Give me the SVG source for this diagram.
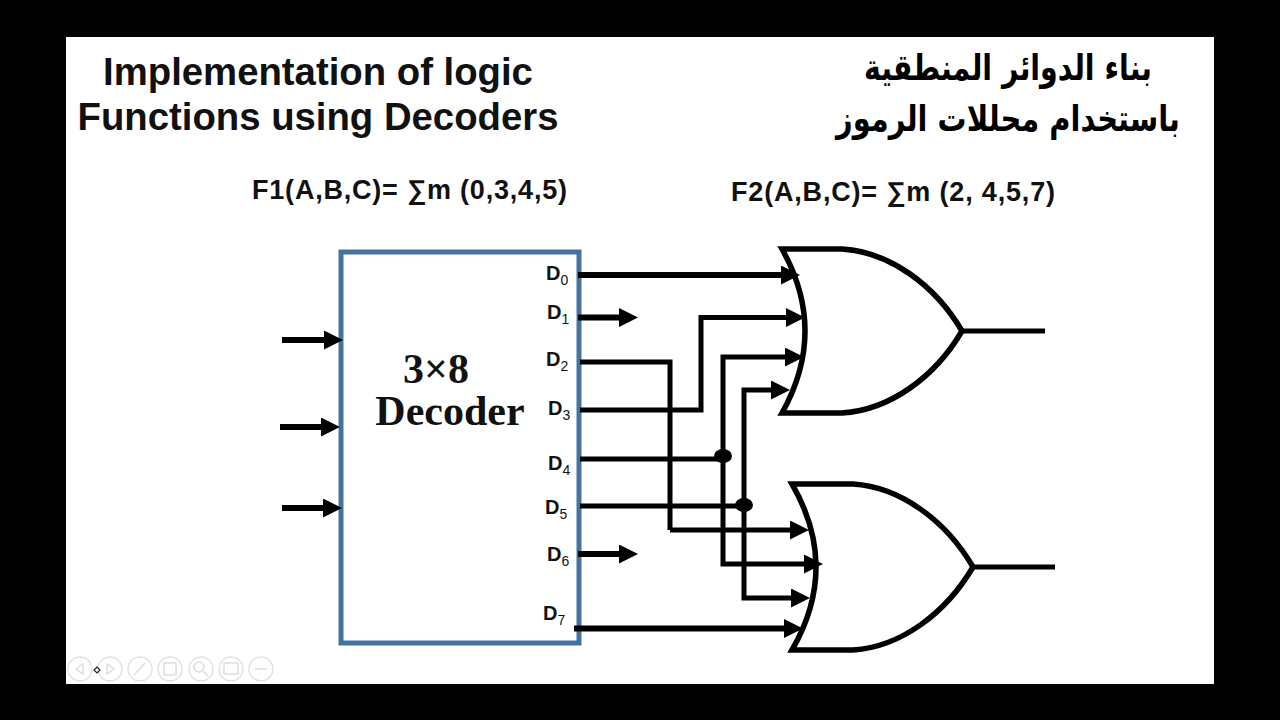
<svg xmlns="http://www.w3.org/2000/svg" width="1280" height="720" viewBox="0 0 1280 720">
<style>
.t{font-family:"Liberation Sans",Arial,sans-serif;font-weight:700;fill:#111}
.h{font-size:38.300px;text-anchor:middle}
.f{font-size:27px}
.d{font-size:20px}
.s{font-size:14px;font-weight:400}
.ar{font-family:"DejaVu Sans","Noto Sans",sans-serif;font-weight:700;font-size:36px;fill:#000;text-anchor:middle}
.dec{font-family:"Liberation Serif","Times New Roman",serif;font-weight:700;font-size:42px;fill:#111;text-anchor:middle}
.w{fill:none;stroke:#000;stroke-width:5}
.a{fill:none;stroke:#000;stroke-width:5;marker-end:url(#ah)}
.k{stroke-width:6}
.g{fill:none;stroke:#000;stroke-width:5.500;stroke-linejoin:miter;stroke-miterlimit:10}
.b{fill:none;stroke:#e2e2e2;stroke-width:1.500}
.bi{fill:none;stroke:#dedede;stroke-width:1.500}
</style>
<defs>
<marker id="ah" markerUnits="userSpaceOnUse" markerWidth="20" markerHeight="20" refX="1" refY="9.500" orient="auto">
<path d="M0 0L19 9.500L0 19Z" fill="#000"/>
</marker>
</defs>
<rect width="1280" height="720" fill="#000"/>
<rect x="66" y="37" width="1148" height="647" fill="#fff"/>
<g id="titles">
<text class="t h" x="318" y="85">Implementation of logic</text>
<text class="t h" x="318" y="130">Functions using Decoders</text>
<text class="ar" x="1008" y="80" direction="rtl" textLength="288" lengthAdjust="spacingAndGlyphs">بناء الدوائر المنطقية</text>
<text class="ar" x="1008" y="131" direction="rtl" textLength="344" lengthAdjust="spacingAndGlyphs">باستخدام محللات الرموز</text>
<text class="t f" x="252" y="199" textLength="315">F1(A,B,C)= ∑m (0,3,4,5)</text>
<text class="t f" x="731" y="201" textLength="324">F2(A,B,C)= ∑m (2, 4,5,7)</text>
</g>
<g id="decoder">
<rect x="341" y="252" width="238" height="391" fill="#fff" stroke="#44739e" stroke-width="5"/>
<text class="dec" x="436" y="383">3×8</text>
<text class="dec" x="450" y="425">Decoder</text>
<text class="t d" x="546" y="280">D<tspan class="s" dy="5">0</tspan></text>
<text class="t d" x="547" y="319">D<tspan class="s" dy="5">1</tspan></text>
<text class="t d" x="546" y="366">D<tspan class="s" dy="5">2</tspan></text>
<text class="t d" x="548" y="415">D<tspan class="s" dy="5">3</tspan></text>
<text class="t d" x="548" y="470">D<tspan class="s" dy="5">4</tspan></text>
<text class="t d" x="545" y="514">D<tspan class="s" dy="5">5</tspan></text>
<text class="t d" x="547" y="561">D<tspan class="s" dy="5">6</tspan></text>
<text class="t d" x="543" y="620">D<tspan class="s" dy="5">7</tspan></text>
</g>
<g id="gate-f1">
<path class="g" d="M782 249H842C890 252 935 285 962 331C935 377 890 410 842 413H782Q828 331 782 249Z"/>
<path class="w" d="M962 331H1045"/>
</g>
<g id="gate-f2">
<path class="g" d="M792 484H853C901 487 946 521 973 567C946 613 901 647 853 650H792Q840 567 792 484Z"/>
<path class="w" d="M973 567H1055"/>
</g>
<g id="connectors">
<path class="a k" d="M282 340H325"/>
<path class="a k" d="M280 427H322"/>
<path class="a k" d="M282 508H324"/>
<path class="a k" d="M578 275H782"/>
<path class="a k" d="M578 317.500H620"/>
<path class="a" d="M580 410H701V317.500H787"/>
<path class="w" d="M580 362H670V530"/>
<path class="a" d="M670 530H791"/>
<path class="a" d="M723 456V357H786"/>
<path class="a" d="M723 456V564H805"/>
<path class="w" d="M580 459H723"/>
<path class="a" d="M744 505V390H772"/>
<path class="a" d="M744 505V598H792"/>
<path class="w" d="M580 506H744"/>
<path class="a k" d="M578 554H620"/>
<path class="a k" d="M574 628.500H785"/>
<ellipse cx="723" cy="456" rx="9" ry="7"/>
<ellipse cx="744" cy="505" rx="9" ry="7"/>
</g>
<g id="toolbar">
<circle class="b" cx="80" cy="669" r="12"/><path class="bi" d="M83 664L76 669L83 674Z"/>
<circle class="b" cx="110" cy="669" r="12"/><path class="bi" d="M107 664L114 669L107 674Z"/>
<circle class="b" cx="140" cy="669" r="12"/><path class="bi" d="M134 675L145 663" stroke-width="3"/>
<circle class="b" cx="170" cy="669" r="12"/><rect class="bi" x="164" y="663" width="12" height="12"/>
<circle class="b" cx="201" cy="669" r="12"/><circle class="bi" cx="199" cy="667" r="5"/><path class="bi" d="M203 671L208 676"/>
<circle class="b" cx="231" cy="669" r="12"/><rect class="bi" x="224" y="663" width="14" height="11"/>
<circle class="b" cx="261" cy="669" r="12"/><path class="bi" d="M255 669H267"/>
<path d="M97 667L100 670L97 673L94 670Z" fill="#fff" stroke="#222" stroke-width="1.200"/>
</g>
</svg>
